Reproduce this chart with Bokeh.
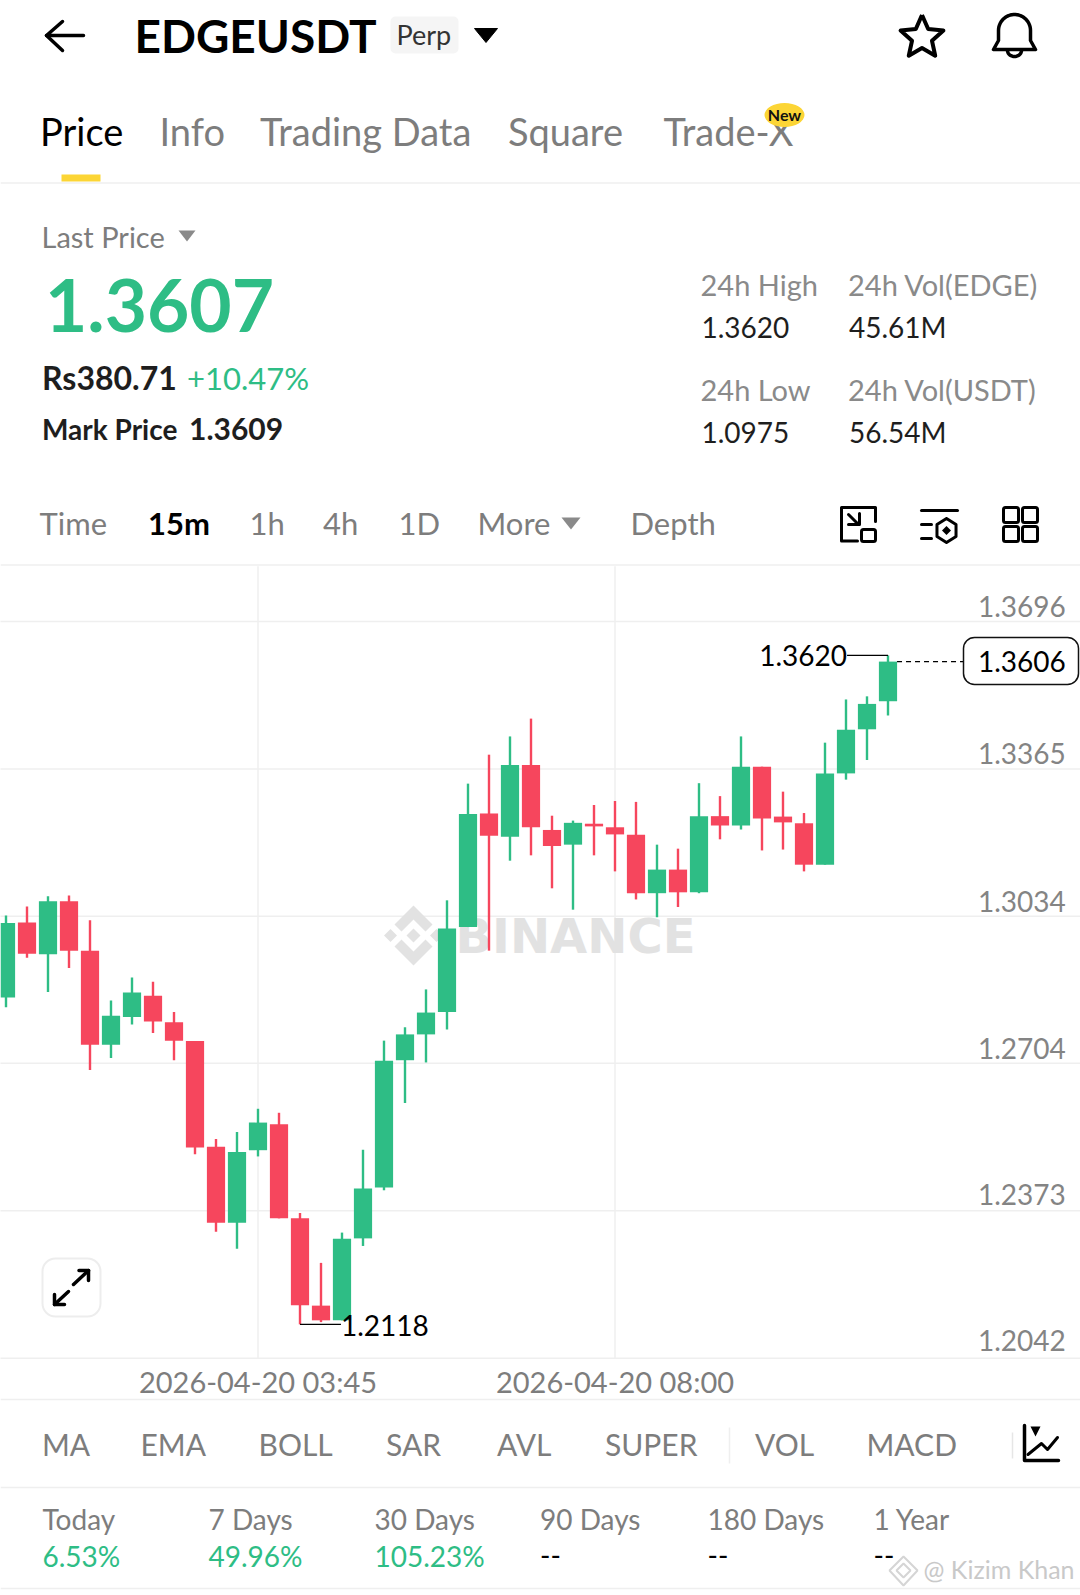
import numpy as np
from bokeh.core.properties import value
from bokeh.embed import file_html
from bokeh.models import Range1d, ColumnDataSource
from bokeh.plotting import figure
from bokeh.resources import INLINE

# ---------- chart data ----------
opens = [1.2852,1.3020,1.2949,1.3068,1.2957,1.2746,1.2808,1.2856,1.2796,1.2754,1.2517,1.2346,1.2509,1.2567,1.2356,1.2160,1.2127,
         1.2311,1.2425,1.2711,1.2769,1.2819,1.3010,1.3265,1.3213,1.3374,1.3228,1.3195,1.3242,1.3234,1.3217,1.3086,1.3139,1.3088,
         1.3259,1.3238,1.3370,1.3258,1.3243,1.3150,1.3355,1.3454,1.3517]
highs = [1.3036,1.3056,1.3079,1.3081,1.3025,1.2845,1.2897,1.2887,1.2819,1.2754,1.2534,1.2550,1.2602,1.2593,1.2368,1.2256,1.2324,
         1.2510,1.2755,1.2785,1.2870,1.3070,1.3332,1.3397,1.3438,1.3478,1.3260,1.3249,1.3284,1.3293,1.3291,1.3195,1.3186,1.3333,
         1.3304,1.3438,1.3370,1.3314,1.3266,1.3424,1.3521,1.3528,1.3620]
lows = [1.2830,1.2941,1.2864,1.2918,1.2689,1.2716,1.2791,1.2772,1.2711,1.2500,1.2326,1.2288,1.2495,1.2356,1.2118,1.2123,1.2127,
        1.2294,1.2419,1.2615,1.2706,1.2780,1.3010,1.2957,1.3159,1.3171,1.3097,1.3049,1.3171,1.3135,1.3072,1.3032,1.3055,1.3086,
        1.3207,1.3229,1.3182,1.3184,1.3135,1.3150,1.3341,1.3385,1.3485]
closes = [1.3019,1.2950,1.3068,1.2957,1.2746,1.2811,1.2863,1.2798,1.2755,1.2515,1.2346,1.2505,1.2571,1.2356,1.2161,1.2127,1.2310,
          1.2423,1.2710,1.2769,1.2818,1.3007,1.3264,1.3215,1.3374,1.3234,1.3192,1.3244,1.3236,1.3218,1.3086,1.3139,1.3088,1.3259,
          1.3238,1.3370,1.3254,1.3245,1.3150,1.3355,1.3453,1.3511,1.3606]
y_ticks = [1.3696, 1.3365, 1.3034, 1.2704, 1.2373, 1.2042]
y_tick_labels = ["1.3696", "1.3365", "1.3034", "1.2704", "1.2373", "1.2042"]
x_ticks = [12, 29]
x_tick_labels = ["2026-04-20 03:45", "2026-04-20 08:00"]
high_price, low_price, last_price = 1.3620, 1.2118, 1.3606
high_index, low_index, last_index = 42, 14, 42

FONT = "Lato"
GREEN, RED = "#2ebd85", "#f6465d"
GREY, DARK = "#7d7d7d", "#1e1e1e"
LINE = "#efefef"

p = figure(width=1080, height=1595, x_range=Range1d(0, 1080), y_range=Range1d(1595, 0),
           output_backend="svg", toolbar_location=None, min_border=0,
           x_axis_location=None, y_axis_location=None)
p.grid.visible = False
p.outline_line_color = None
# chart scales: index and price
p.extra_x_ranges["candle"] = Range1d(-0.2619, 51.167)
p.extra_y_ranges["price"] = Range1d(1.15092, 1.50903)
CH = dict(x_range_name="candle", y_range_name="price")


def t(x, y, s, size, color=GREY, bold=False, align="left", base="middle", font=FONT):
    p.text(x=[x], y=[y], text=[s], text_font=value(font), text_font_size=f"{size}px",
           text_color=color, text_align=align, text_baseline=base,
           text_font_style="bold" if bold else "normal")


def hline(y, x0=0, x1=1080, color=LINE, w=1.5):
    p.line([x0, x1], [y, y], line_color=color, line_width=w)


def stroke(xs, ys, w=3.5, color="black"):
    p.line(xs, ys, line_color=color, line_width=w, line_cap="round", line_join="round")


def box(l, r, tp, b, radius=0, fill="white", line=None, w=1.5):
    p.quad(left=l, right=r, top=tp, bottom=b, fill_color=fill, line_color=line, line_width=w,
           border_radius=radius)


# ---------- header ----------
stroke([83, 46, 62], [35, 35, 21]); stroke([46, 62], [35, 50])
t(134, 34.5, "EDGEUSDT", 46, "#000000", True)
box(390, 458, 16, 53, 5, "#f5f5f5")
t(396, 34, "Perp", 27, "#333333")
p.patch([474, 497, 485.5], [28, 28, 42], fill_color="black", line_color="black", line_width=1)
ang = np.pi / 5 * np.arange(11) - np.pi / 2
rad = np.where(np.arange(11) % 2 == 0, 22.5, 10.5)
p.line(921.5 + rad * np.cos(ang), 37 + rad * np.sin(ang), line_color="black", line_width=4, line_join="round")
th = np.linspace(np.pi, 2 * np.pi, 30)
bx = np.r_[1014 - 21, 1014 - 16, 1014 + 16 * np.cos(th), 1014 + 16, 1014 + 21, 1014 - 21]
by = np.r_[49, 40, 30 + 16 * np.sin(th), 40, 49, 49]
stroke(bx, by, 3.5)
th2 = np.linspace(0, np.pi, 16)
stroke(1014 + 7 * np.cos(th2), 50 + 6 * np.sin(th2), 3.5)

# ---------- tabs ----------
tab_names = ["Price", "Info", "Trading Data", "Square", "Trade-X"]
tab_x = [39.5, 159, 259.5, 507.5, 663]
for n, x in zip(tab_names, tab_x):
    t(x, 130.5, n, 38, "#000000" if n == "Price" else GREY)
p.ellipse([784], [114.5], width=40, height=24, fill_color="#fcd535", line_color=None)
t(784, 113.5, "New", 16, "#111111", True, "center")
box(61, 100, 174, 181, 0, "#fcd535")
hline(182.5)

# ---------- price block ----------
t(41, 236, "Last Price", 29, GREY)
p.patch([178, 195, 186.5], [230, 230, 241], fill_color="#8a8a8a", line_color=None)
t(44.5, 305, "1.3607", 73, GREEN, True)
t(41.5, 377, "Rs380.71", 32, DARK, True)
t(186.5, 377, "+10.47%", 31, GREEN)
t(41.5, 428, "Mark Price", 28, DARK, True)
t(188.5, 428, "1.3609", 30, DARK, True)
stat_labels = ["24h High", "24h Vol(EDGE)", "24h Low", "24h Vol(USDT)"]
stat_values = ["1.3620", "45.61M", "1.0975", "56.54M"]
stat_x = [700, 847.5, 700, 847.5]
stat_ly = [284, 284, 389, 389]
stat_vy = [326.5, 326.5, 431.5, 431.5]
for a, b, x, y0, y1 in zip(stat_labels, stat_values, stat_x, stat_ly, stat_vy):
    t(x, y0, a, 29, "#8a8a8a")
    t(x + 1, y1, b, 28, DARK)

# ---------- interval row ----------
iv_names = ["Time", "15m", "1h", "4h", "1D", "More", "Depth"]
iv_x = [39, 147.5, 249, 322.5, 398, 477, 630]
for n, x in zip(iv_names, iv_x):
    t(x, 522.5, n, 31, "#000000" if n == "15m" else GREY, n == "15m")
p.patch([561, 580, 570.5], [517, 517, 529], fill_color="#8a8a8a", line_color=None)
stroke([864, 841, 841, 857], [507, 507, 540.5, 540.5], 3)
stroke([864, 875, 875], [507, 507, 521], 3)
box(861, 875, 529, 541, 2, "white", "black", 3)
stroke([848, 858], [514, 524], 3); stroke([848, 859, 859], [524, 524, 513], 3)
stroke([921, 957], [510, 510], 3); stroke([921, 931], [524, 524], 3); stroke([921, 931], [538, 538], 3)
hx = 946 + 11 * np.cos(np.pi / 3 * np.arange(7) - np.pi / 2)
hy = 530 + 12 * np.sin(np.pi / 3 * np.arange(7) - np.pi / 2)
stroke(hx, hy, 3)
p.patch([946, 950.5, 946, 941.5], [525.5, 530, 534.5, 530], fill_color="black", line_color=None)
for l, tp in [(1003, 507), (1022, 507), (1003, 526), (1022, 526)]:
    box(l, l + 15, tp, tp + 15, 2, "white", "black", 3)
hline(564.5)

# ---------- chart ----------
for tick in y_ticks:
    p.line([-1, 52], [tick, tick], line_color=LINE, line_width=1.5, **CH)
for tick in x_ticks:
    p.line([tick, tick], [1.2042, 1.3820], line_color=LINE, line_width=1.5, **CH)

# watermark
WM = "#e2e2e2"
cx, cy = 413, 935
for dx, dy, s in [(0, 0, 7), (-23, 0, 6.5), (23, 0, 6.5)]:
    p.patch([cx + dx - s, cx + dx, cx + dx + s, cx + dx], [cy + dy, cy + dy - s, cy + dy, cy + dy + s],
            fill_color=WM, line_color=None)
for sgn in (-1, 1):
    p.patch([cx, cx + 19, cx + 12, cx, cx - 12, cx - 19],
            [cy + sgn * 30, cy + sgn * 11, cy + sgn * 4, cy + sgn * 16, cy + sgn * 4, cy + sgn * 11],
            fill_color=WM, line_color=None)
t(455, 935, "BINANCE", 48, WM, True, font="DejaVu Sans")

idx = list(range(len(opens)))
colors = [GREEN if c >= o else RED for o, c in zip(opens, closes)]
src = ColumnDataSource(dict(x=idx, o=opens, h=highs, l=lows, c=closes, col=colors))
p.segment("x", "h", "x", "l", source=src, line_color="col", line_width=2.4, **CH)
p.vbar(x="x", width=0.867, top="o", bottom="c", source=src, fill_color="col", line_color=None, **CH)

# y tick labels
p.text(x=[51.167 - 0.7] * 6, y=y_ticks, text=y_tick_labels, text_font=value(FONT), text_font_size="28px",
       text_color="#848484", text_align="right", text_baseline="middle",
       y_offset=[-15, -15, -15, -15, -16, -18], **CH)
# x tick labels
p.text(x=x_ticks, y=[1.2042, 1.2042], text=x_tick_labels, text_font=value(FONT), text_font_size="29px",
       text_color=GREY, text_align="center", text_baseline="middle", y_offset=23, **CH)

# high / low / last annotations
p.line([40.05, high_index], [high_price, high_price], line_color="black", line_width=1.2, **CH)
p.text(x=[40.05], y=[high_price], text=["%.4f" % high_price], text_font=value(FONT), text_font_size="28px",
       text_color="black", text_align="right", text_baseline="middle", **CH)
p.line([low_index, 15.95], [low_price, low_price], line_color="black", line_width=1.2, **CH)
p.text(x=[15.95], y=[low_price], text=["%.4f" % low_price], text_font=value(FONT), text_font_size="28px",
       text_color="black", text_align="left", text_baseline="middle", y_offset=1, **CH)
p.line([last_index + 0.43, 45.6], [last_price, last_price], line_color="black", line_width=1.4, line_dash="5 4", **CH)
box(963, 1078, 637, 684, 11, "white", "#111111", 1.5)
p.text(x=[51.167 - 0.7], y=[last_price], text=["%.4f" % last_price], text_font=value(FONT), text_font_size="28px",
       text_color="black", text_align="right", text_baseline="middle", **CH)

# expand button
box(42, 100, 1258, 1316, 13, "white", "#ededed", 2)
stroke([73, 88], [1284, 1270], 3.5); stroke([78.5, 88, 88], [1270, 1270, 1280], 3.5)
stroke([68, 54], [1291, 1304], 3.5); stroke([54, 54, 64], [1294, 1304, 1304], 3.5)

hline(1399)

# ---------- indicator row ----------
ind_names = ["MA", "EMA", "BOLL", "SAR", "AVL", "SUPER", "VOL", "MACD"]
ind_x = [41.5, 140, 258, 385.5, 496.5, 604.5, 754.5, 866]
for n, x in zip(ind_names, ind_x):
    t(x, 1443, n, 30, GREY)
p.line([729, 729], [1427, 1463], line_color=LINE, line_width=1.5)
p.line([1012, 1012], [1432, 1458], line_color="#e6e6e6", line_width=1.5)
stroke([1024, 1024, 1058], [1425, 1460, 1460], 3.5)
stroke([1027.5, 1041, 1047, 1057], [1454, 1443, 1449, 1437], 3)
p.patch([1030, 1040, 1035], [1426, 1426, 1436], fill_color="black", line_color=None)
hline(1487)

# ---------- performance row ----------
perf_names = ["Today", "7 Days", "30 Days", "90 Days", "180 Days", "1 Year"]
perf_vals = ["6.53%", "49.96%", "105.23%", "--", "--", "--"]
perf_x = [42, 208, 374, 539.5, 707, 873]
for n, v, x in zip(perf_names, perf_vals, perf_x):
    t(x, 1518, n, 28, GREY)
    t(x, 1555, v, 28, GREEN if v != "--" else "#000000")
t(923, 1568, "@ Kizim Khan", 25, "#c9c9c9")
p.patch([903, 917, 903, 889], [1556, 1570, 1585, 1570], fill_color=None, line_color="#d5d5d5", line_width=2)
p.patch([903, 910, 903, 896], [1563, 1570, 1577, 1570], fill_color=None, line_color="#d5d5d5", line_width=2)
hline(1588)

open("out.html", "w").write(file_html(p, INLINE))
